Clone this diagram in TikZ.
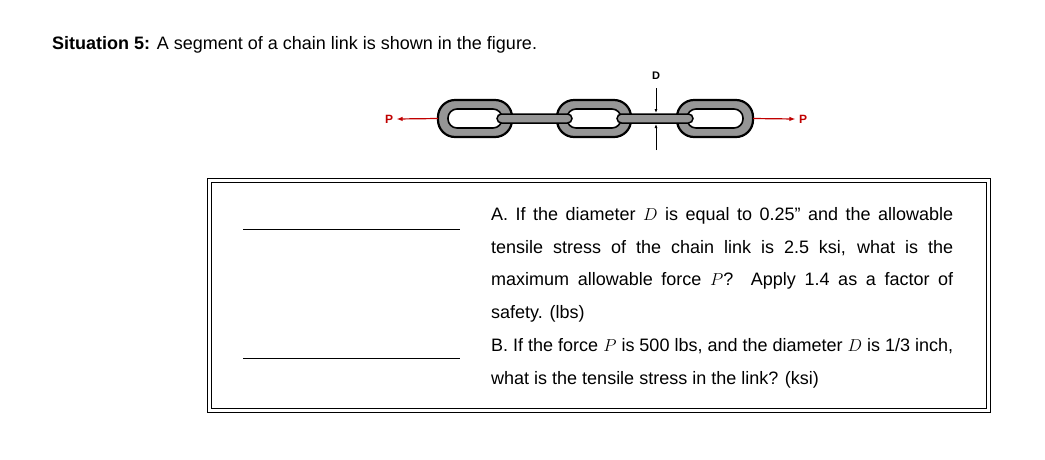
\documentclass[tikz,border=0pt]{standalone}
\usepackage{fontspec}
\setmainfont{Liberation Sans}
\usepackage{amsmath}
\usetikzlibrary{arrows.meta}
\definecolor{pred}{RGB}{192,0,0}
\definecolor{lgray}{RGB}{150,150,150}
\begin{document}
\begin{tikzpicture}[x=1pt,y=-1pt,
  linkfill/.style={draw=black,line width=2.2pt,fill=lgray},
  hole/.style={draw=black,line width=1.6pt,fill=white},
  force/.style={pred,line width=1.2pt,-{Latex[length=6pt]}},
  dim/.style={black,line width=0.8pt,-{Latex[length=4pt]}},
  plbl/.style={pred,font=\fontsize{12}{13}\selectfont\bfseries},
  qtext/.style={font=\fontsize{18}{32.8}\selectfont,align=justify,text width=462pt,inner sep=0pt,anchor=north west}]
\useasboundingbox (0,0) rectangle (1045,459);
\node[anchor=base west,inner sep=0pt,font=\fontsize{18}{20}\selectfont] (title) at (52,49) {\textbf{Situation 5:} A segment of a chain link is shown in the figure.};
% links
\foreach \a/\b [count=\i] in {438/512,557/631,677/753}{
  \filldraw[linkfill,rounded corners=17pt] (\a,100) rectangle (\b,137);
  \filldraw[hole,rounded corners=9pt] (\a+10,109) rectangle (\b-10,128);
  \coordinate (L\i w) at (\a,118.5);
  \coordinate (L\i e) at (\b,118.5);
}
\foreach \a/\b in {497/572,617/693}{
  \filldraw[draw=black,line width=1.5pt,fill=lgray,rounded corners=4.5pt] (\a,114) rectangle (\b,123);
}
\node[plbl] (pl) at (389,119) {P};
\node[plbl] (pr) at (803,119) {P};
\draw[force] (L1w) -- (pl.east);
\draw[force] (L3e) -- (pr.west);
\node[font=\fontsize{11}{12}\selectfont\bfseries] (D) at (656,76) {D};
\coordinate (dt) at (656,88); \coordinate (dtt) at (656,113);
\coordinate (db) at (656,150); \coordinate (dbb) at (656,124);
\draw[dim] (dt) -- (dtt);
\draw[dim] (db) -- (dbb);
% box
\draw[line width=0.7pt] (207,178) rectangle (990,412);
\draw[line width=0.7pt] (211,182) rectangle (986,408);
\coordinate (a1) at (243,229); \coordinate (a2) at (460,229);
\coordinate (b1) at (243,358); \coordinate (b2) at (460,358);
\draw[line width=0.6pt] (a1) -- (a2);
\draw[line width=0.6pt] (b1) -- (b2);
\node[qtext] (qa) at (491,207) {\hyphenpenalty=10000 A. If the diameter $D$ is equal to 0.25” and the allowable\linebreak tensile stress of the chain link is 2.5 ksi, what is the\linebreak maximum allowable force $P$? Apply 1.4 as a factor of\linebreak safety. (lbs)\par
B. If the force $P$ is 500 lbs, and the diameter $D$ is 1/3 inch,\linebreak what is the tensile stress in the link? (ksi)};
\end{tikzpicture}
\end{document}
